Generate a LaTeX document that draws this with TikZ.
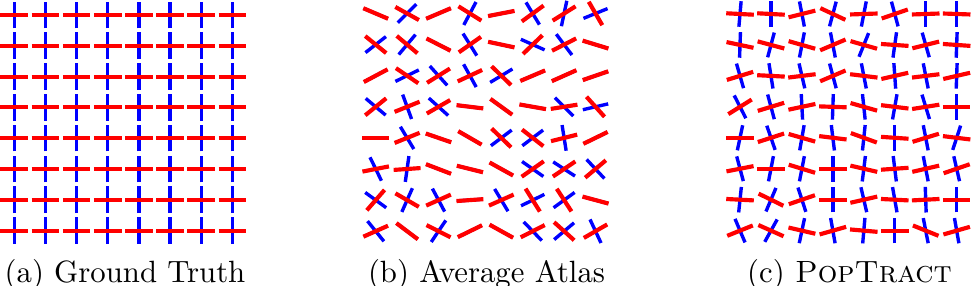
\documentclass[tikz,border=0pt]{standalone}
\definecolor{FiberRed}{RGB}{255, 0, 0}
\definecolor{FiberBlue}{RGB}{0, 0, 255}
\usepackage{tikz}
\usetikzlibrary{positioning}
\tikzset{
  redfiber/.style={FiberRed, line width=1.35pt},
  bluefiber/.style={FiberBlue, line width=1.1pt}
}
\begin{document}
\begin{tikzpicture}[x=0.325pt, y=0.325pt]
\useasboundingbox (0, 0) rectangle (974, 286);
\foreach \r in {0,...,7} {
  \foreach \c in {0,...,7} {
    \draw[bluefiber, shift={(14.3 + 31.15*\c, 271 - 30.8*\r)}, rotate=90] (-13.3, 0) -- (13.3, 0);
    \draw[redfiber, shift={(14.3 + 31.15*\c, 271 - 30.8*\r)}] (-13.8, 0) -- (13.8, 0);
  }
}
\foreach \r/\fibers in {
  0/{-23/-23, -29/45, 23/23, -32/62, 11/11, 36/-59, 32/78, -60/22},
  1/{-39/38, -40/50, -27/-27, 35/-58, -12/-12, 44/-24, 27/-53, -17/-17},
  2/{28/28, -34/26, 32/-48, 25/-61, -44/31, 23/23, 24/24, 19/19},
  3/{39/-40, 22/-70, 30/-42, -7/-7, -36/-36, -10/-10, 9/-45, -48/13},
  4/{0/0, 22/-59, -19/-19, -30/-30, -44/37, -38/37, 14/-81, 26/26},
  5/{11/-64, 4/82, -21/-21, -14/-14, -29/-29, 35/-35, 34/-33, 40/-47},
  6/{49/-36, -30/66, 24/-62, 4/4, 24/-59, -58/26, -57/36, -15/-15},
  7/{24/-51, -37/-37, -27/56, 26/26, -29/-29, 27/-46, -42/40, 30/-65}} {
  \foreach \ra/\ba [count=\c from 0] in \fibers {
    \draw[bluefiber, shift={(375.7 + 31.4*\c, 272.5 - 31.1*\r)}, rotate=\ba] (-13, 0) -- (13, 0);
    \draw[redfiber, shift={(375.7 + 31.4*\c, 272.5 - 31.1*\r)}, rotate=\ra] (-13.5, 0) -- (13.5, 0);
  }
}
\foreach \r/\fibers in {
  0/{-3/85, -3/90, 14/101, -25/75, 2/79, 19/105, 2/90, -2/90},
  1/{-12/88, -15/75, -16/79, 23/101, -16/68, -4/82, 14/106, -4/88},
  2/{17/106, -3/99, 7/103, 23/105, -7/101, 13/94, 7/101, 13/88},
  3/{32/117, 17/105, 12/93, -2/88, -16/96, -7/80, 9/107, 0/90},
  4/{0/78, 18/109, -16/80, -7/97, -20/84, -4/90, 17/101, -7/72},
  5/{11/105, 0/79, -17/79, 0/90, -13/83, 4/97, 13/101, 19/103},
  6/{-3/84, -26/67, 19/108, 0/90, 13/103, -3/100, 3/92, 0/90},
  7/{22/113, -24/61, -13/78, 16/100, -5/85, 0/90, -22/101, 16/100}} {
  \foreach \ra/\ba [count=\c from 0] in \fibers {
    \draw[bluefiber, shift={(740 + 30.95*\c, 272 - 30.95*\r)}, rotate=\ba] (-12.8, 0) -- (12.8, 0);
    \draw[redfiber, shift={(740 + 30.95*\c, 272 - 30.95*\r)}, rotate=\ra] (-13.8, 0) -- (13.8, 0);
  }
}
\node[anchor=base] (capGT) at (125, 3) {(a) Ground Truth};
\node[anchor=base] (capAtlas) at (486.5, 3) {(b) Average Atlas};
\node[anchor=base] (capPop) at (849.5, 3) {(c) \textsc{PopTract}};
\end{tikzpicture}
\end{document}
